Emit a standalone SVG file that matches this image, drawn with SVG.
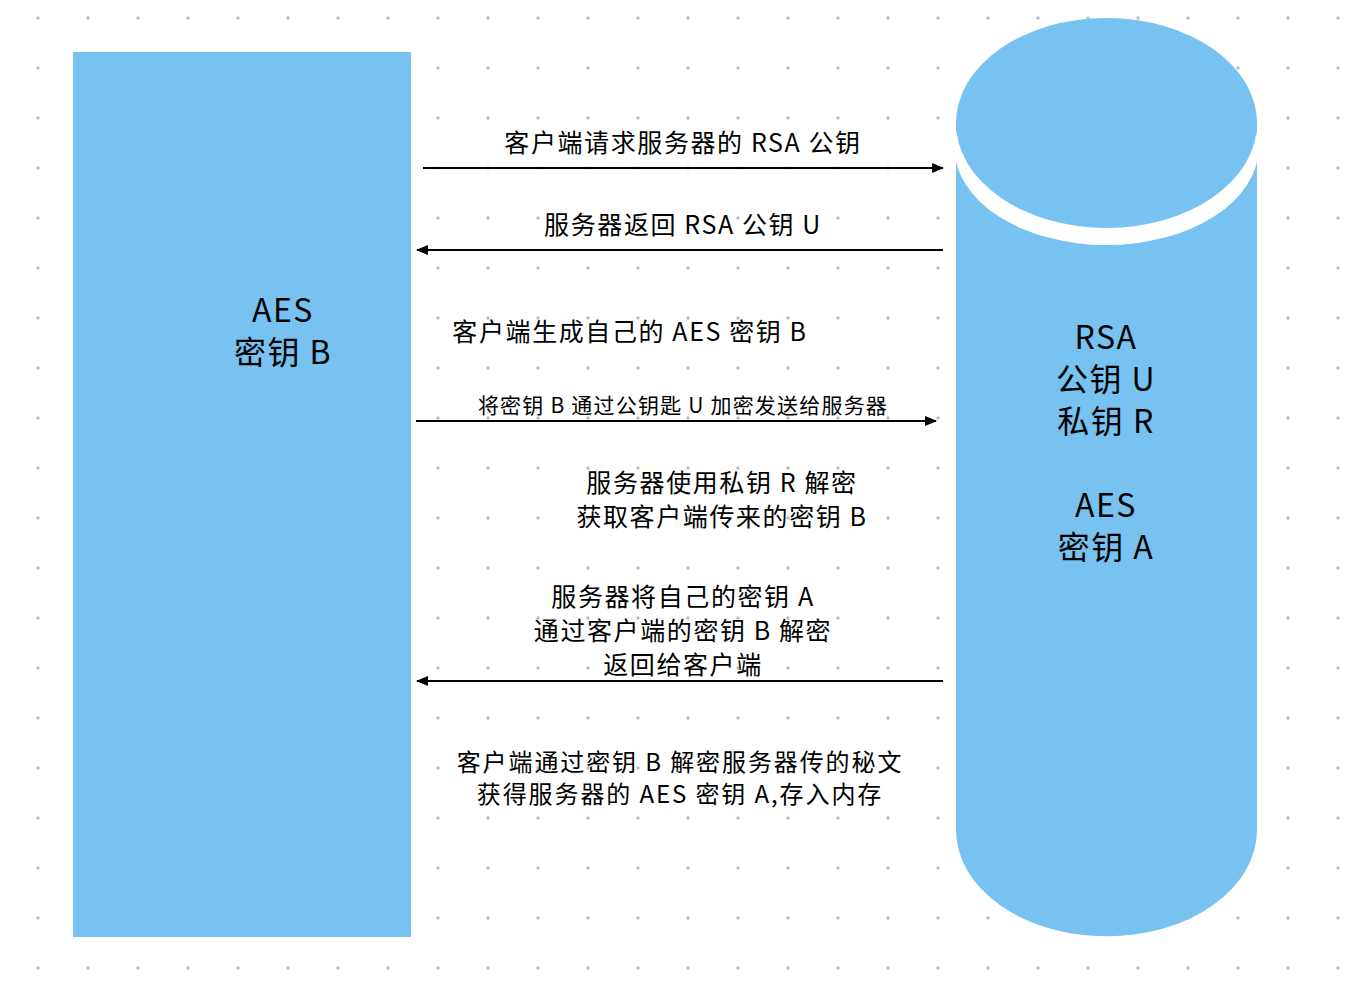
<svg xmlns="http://www.w3.org/2000/svg" width="1362" height="982" viewBox="0 0 1362 982">
<defs>
<pattern id="dots" x="0" y="0" width="50" height="50" patternUnits="userSpaceOnUse"><circle cx="38" cy="18" r="1.7" fill="#bbbbbb"/></pattern>
<marker id="ah" markerWidth="12" markerHeight="10" refX="11" refY="5" orient="auto" markerUnits="userSpaceOnUse"><path d="M0,0 L12,5 L0,10 Z" fill="#000"/></marker>
<style>
text{font-family:"Noto Sans CJK SC","Noto Sans",sans-serif;fill:#000;text-anchor:middle}
.m{font-size:25px;letter-spacing:1.6px}
.t{font-size:24px;letter-spacing:1.9px}
.s{font-size:21px;letter-spacing:1.2px}
.b{font-size:32px;letter-spacing:1.5px}
.node{fill:#77c2f0}
.c{stroke:#000;stroke-width:2;fill:none;marker-end:url(#ah)}
</style>
</defs>
<rect width="1362" height="982" fill="#fff"/>
<rect width="1362" height="982" fill="url(#dots)"/>
<g id="client">
<rect class="node" x="73" y="52" width="338" height="885"/>
<text class="b" x="283" y="322">AES</text>
<text class="b" x="283" y="364">密钥 B</text>
</g>
<g id="server">
<path class="node" d="M956,122 L956,830 A150,106 0 0 0 1257,830 L1257,122 Z"/>
<ellipse cx="1106.5" cy="148" rx="152" ry="97" fill="#fff"/>
<ellipse class="node" cx="1106.5" cy="123" rx="150.5" ry="105"/>
<text class="b" x="1106" y="349">RSA</text>
<text class="b" x="1106" y="391">公钥 U</text>
<text class="b" x="1106" y="433">私钥 R</text>
<text class="b" x="1106" y="517">AES</text>
<text class="b" x="1106" y="559">密钥 A</text>
</g>
<g id="connectors">
<line class="c" x1="423" y1="168" x2="943" y2="168"/>
<line class="c" x1="943" y1="250" x2="417" y2="250"/>
<line class="c" x1="416" y1="421" x2="936" y2="421"/>
<line class="c" x1="943" y1="681" x2="417" y2="681"/>
</g>
<g id="labels">
<text class="m" x="683" y="152">客户端请求服务器的 RSA 公钥</text>
<text class="m" x="683" y="234">服务器返回 RSA 公钥 U</text>
<text class="m" x="630" y="341">客户端生成自己的 AES 密钥 B</text>
<text class="s" x="683" y="413">将密钥 B 通过公钥匙 U 加密发送给服务器</text>
<text class="m" x="722" y="492">服务器使用私钥 R 解密</text>
<text class="m" x="722" y="526">获取客户端传来的密钥 B</text>
<text class="m" x="683" y="606">服务器将自己的密钥 A</text>
<text class="m" x="683" y="640">通过客户端的密钥 B 解密</text>
<text class="m" x="683" y="674">返回给客户端</text>
<text class="t" x="680" y="771">客户端通过密钥 B 解密服务器传的秘文</text>
<text class="t" x="680" y="803">获得服务器的 AES 密钥 A,存入内存</text>
</g>
</svg>
